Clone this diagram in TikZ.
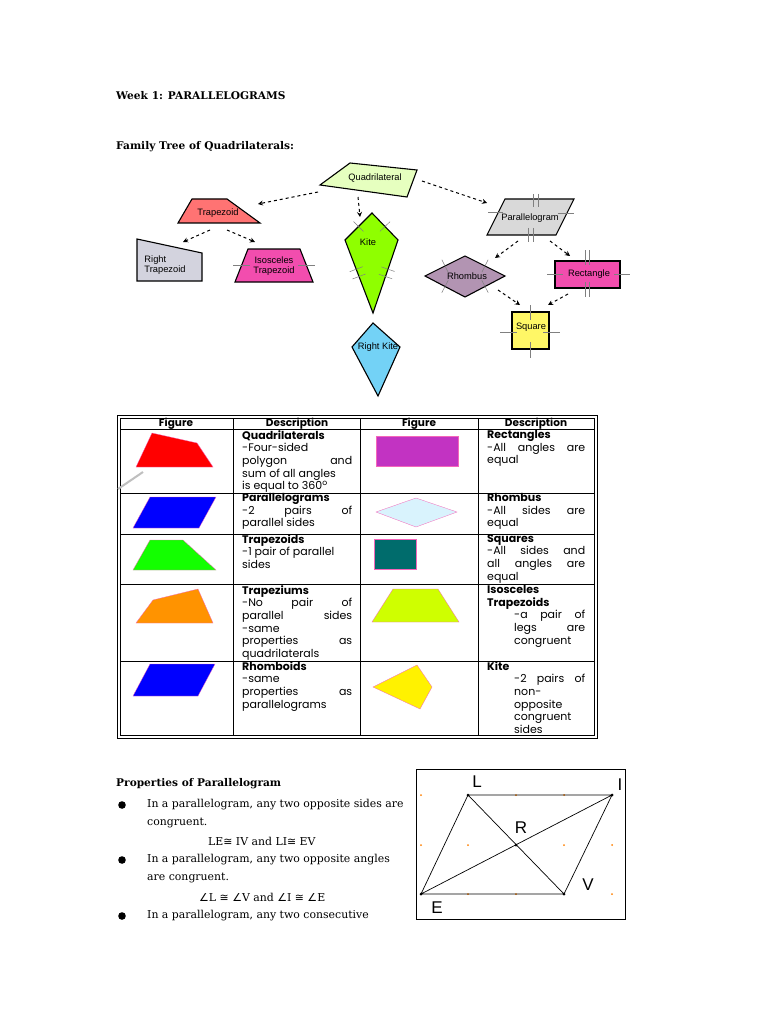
\documentclass[tikz,border=0pt]{standalone}
\usepackage{fontspec}
\setmainfont{DejaVu Serif}
\newfontfamily\lsans{Liberation Sans}
\newfontfamily\dsans{DejaVu Sans}
\newfontfamily\tfont{Poppins}
\usetikzlibrary{arrows.meta}
\newcommand{\sj}[2]{\makebox[#1][s]{#2}}
\newcommand{\cg}{{\dsans ≅}}
\begin{document}
\begin{tikzpicture}[x=1pt,y=-1pt,
  shp/.style={draw=black,line width=1.1pt,line join=miter},
  lab/.style={font=\lsans\fontsize{9.3}{10}\selectfont,align=center,inner sep=0pt},
  arr/.style={dashed,line width=1pt,-{Stealth[length=5pt,width=5pt]}},
  tk/.style={draw=gray,line width=0.5pt,inner sep=0pt,minimum width=0pt,minimum height=14pt,sloped,shape=rectangle},
  tsh/.style={draw=magenta!60,line width=0.3pt},
  hd/.style={font=\tfont\bfseries\fontsize{10.5}{12}\selectfont,inner sep=0pt},
  desc/.style={anchor=north west,inner sep=0pt,align=left,font=\tfont\fontsize{11}{12.7}\selectfont},
  body/.style={anchor=west,inner sep=0pt,font=\fontsize{10.9}{12}\selectfont},
  bodyb/.style={anchor=west,inner sep=0pt,font=\bfseries\fontsize{10.6}{12}\selectfont},
  pt/.style={font=\lsans\fontsize{17}{18}\selectfont,inner sep=0pt}]
\useasboundingbox (0,0) rectangle (768,1024);
\fill[white] (0,0) rectangle (768,1024);
% headings
\node[bodyb] (title) at (116,96) {Week 1: PARALLELOGRAMS};
\node[bodyb] (fam) at (116,147) {Family Tree of Quadrilaterals:};
% family tree shapes
\filldraw[shp,fill=green!20!lime!25] (320,185) -- (350,163) -- (417,170) -- (407,197) -- cycle;
\node[lab] (quad) at (375,178) {Quadrilateral};
\filldraw[shp,fill=red!40!pink] (178,223) -- (192,199) -- (227,199) -- (260,223) -- cycle;
\node[lab] (trap) at (218,213) {Trapezoid};
\filldraw[shp,fill=blue!15!gray!30] (137,239) -- (202,253) -- (202,281) -- (137,281) -- cycle;
\node[lab,align=left] (rtrap) at (165,265) {Right\\Trapezoid};
\filldraw[shp,fill=magenta!70] (235,282) -- (248,249) -- (300,249) -- (313,282) -- cycle;
\node[lab] (itrap) at (274,266) {Isosceles\\Trapezoid};
\draw[gray,line width=0.5pt] (233,265) -- (250,265) (298,265) -- (315,265);
\filldraw[shp,fill=lime!75!green] (345,240) -- (372,213) -- (398,240) -- (373,313) -- cycle;
\node[lab] (kite) at (368,242) {Kite};
\path (345,240) -- (372,213) node[tk,midway]{};
\path (372,213) -- (398,240) node[tk,midway]{};
\path (345,240) -- (373,313) node[tk,pos=0.4]{} node[tk,pos=0.5]{};
\path (398,240) -- (373,313) node[tk,pos=0.4]{} node[tk,pos=0.5]{};
\filldraw[shp,fill=cyan!55] (352,347) -- (373,323) -- (400,347) -- (378,396) -- cycle;
\node[lab] (rkite) at (378,347) {Right Kite};
\filldraw[shp,fill=gray!30] (487,235) -- (505,199) -- (574,199) -- (556,235) -- cycle;
\node[lab] (para) at (530,218) {Parallelogram};
\draw[gray,line width=0.5pt] (533,194) -- (533,207) (538,194) -- (538,207) (528,228) -- (528,242) (533,228) -- (533,242) (488,212) -- (503,212) (558,213) -- (574,213);
\filldraw[shp,fill=violet!40!gray!60] (425,276) -- (465,256) -- (505,276) -- (465,297) -- cycle;
\node[lab] (rhom) at (467,276) {Rhombus};
\path (425,276) -- (465,256) node[tk,midway]{};
\path (465,256) -- (505,276) node[tk,midway]{};
\path (505,276) -- (465,297) node[tk,midway]{};
\path (465,297) -- (425,276) node[tk,midway]{};
\filldraw[shp,fill=magenta!70] (555,261) rectangle (620,288);
\node[lab] (rect) at (589,274) {Rectangle};
\draw[gray,line width=0.5pt] (585,250) -- (585,265) (589,250) -- (589,265) (585,282) -- (585,297) (589,282) -- (589,297) (547,274) -- (563,274) (614,274) -- (630,274);
\filldraw[shp,fill=yellow!60] (512,312) rectangle (549,349);
\node[lab] (sq) at (531,327) {Square};
\draw[gray,line width=0.5pt] (530,305) -- (530,320) (530,342) -- (530,358) (500,332) -- (517,332) (543,332) -- (560,332);
% arrows
\draw[arr] (318,192) -- (258,204);
\draw[arr] (358,197) -- (360,217);
\draw[arr] (422,181) -- (487,203);
\draw[arr] (210,230) -- (183,242);
\draw[arr] (227,230) -- (255,242);
\draw[arr] (518,241) -- (495,258);
\draw[arr] (550,241) -- (570,256);
\draw[arr] (498,290) -- (520,305);
\draw[arr] (568,294) -- (548,305);
% table frame
\draw[line width=0.8pt] (117,415) rectangle (597,738);
\draw[line width=0.8pt] (120,418) rectangle (594,735);
\draw[line width=0.8pt] (233,418) -- (233,735) (360,418) -- (360,735) (478,418) -- (478,735);
\draw[line width=0.8pt] (120,429) -- (594,429);
\draw[line width=0.6pt] (120,493) -- (594,493) (120,534) -- (594,534) (120,584) -- (594,584) (120,661) -- (594,661);
\draw[gray!50,line width=2pt] (118,489) -- (143,472);
\node[hd] (h1) at (176,424) {Figure};
\node[hd] (h2) at (297,424) {Description};
\node[hd] (h3) at (419,424) {Figure};
\node[hd] (h4) at (536,424) {Description};
% table figures
\filldraw[tsh,fill=red] (136,467) -- (152,433) -- (197,443) -- (213,467) -- cycle;
\filldraw[tsh,fill=blue] (133,528) -- (150,497) -- (216,497) -- (199,528) -- cycle;
\filldraw[tsh,fill=green!90!lime] (133,570) -- (150,540) -- (183,540) -- (216,570) -- cycle;
\filldraw[tsh,fill=orange!85!yellow] (136,623) -- (153,600) -- (198,589) -- (213,623) -- cycle;
\filldraw[tsh,fill=blue] (133,696) -- (150,664) -- (215,664) -- (198,696) -- cycle;
\filldraw[tsh,fill=violet!60!magenta!80] (376,436) rectangle (458,466);
\filldraw[tsh,fill=cyan!15] (376,512) -- (416,498) -- (457,512) -- (416,527) -- cycle;
\filldraw[tsh,fill=teal!85!black] (374,539) rectangle (416,569);
\filldraw[tsh,fill=lime!75!yellow] (372,622) -- (393,589) -- (438,589) -- (459,622) -- cycle;
\filldraw[tsh,fill=yellow] (373,687) -- (417,665) -- (432,687) -- (420,709) -- cycle;
% table descriptions
\node[desc] (d1) at (242,430) {\textbf{Quadrilaterals}\\-Four-sided\\\sj{110pt}{polygon and}\\sum of all angles\\is equal to 360\textsuperscript{o}};
\node[desc] (d2) at (242,493) {\textbf{Parallelograms}\\\sj{110pt}{-2 pairs of}\\parallel sides};
\node[desc] (d3) at (242,534) {\textbf{Trapezoids}\\-1 pair of parallel\\sides};
\node[desc] (d4) at (242,585) {\textbf{Trapeziums}\\\sj{110pt}{-No pair of}\\\sj{110pt}{parallel sides}\\-same\\\sj{110pt}{properties as}\\quadrilaterals};
\node[desc] (d5) at (242,661) {\textbf{Rhomboids}\\-same\\\sj{110pt}{properties as}\\parallelograms};
\node[desc] (d6) at (487,430) {\textbf{Rectangles}\\\sj{98pt}{-All angles are}\\equal};
\node[desc] (d7) at (487,493) {\textbf{Rhombus}\\\sj{98pt}{-All sides are}\\equal};
\node[desc] (d8) at (487,534) {\textbf{Squares}\\\sj{98pt}{-All sides and}\\\sj{98pt}{all angles are}\\equal};
\node[desc] (d9) at (487,585) {\textbf{Isosceles}\\\textbf{Trapezoids}\\\hspace*{27pt}\sj{71pt}{-a pair of}\\\hspace*{27pt}\sj{71pt}{legs are}\\\hspace*{27pt}congruent};
\node[desc] (d10) at (487,661) {\textbf{Kite}\\\hspace*{27pt}\sj{71pt}{-2 pairs of}\\\hspace*{27pt}non-\\\hspace*{27pt}opposite\\\hspace*{27pt}congruent\\\hspace*{27pt}sides};
% properties
\node[bodyb] (prop) at (116,784) {Properties of Parallelogram};
\foreach \yy in {805,860,916} \fill (122,\yy) circle (3.8pt);
\node[body] (t1) at (147,805) {In a parallelogram, any two opposite sides are};
\node[body] (t2) at (147,823) {congruent.};
\node[body] (t3) at (208,841) {LE\cg\ IV and LI\cg\ EV};
\node[body] (t4) at (147,860) {In a parallelogram, any two opposite angles};
\node[body] (t5) at (147,878) {are congruent.};
\node[body] (t6) at (199,897) {{\dsans ∠}L \cg\ {\dsans ∠}V and {\dsans ∠}I \cg\ {\dsans ∠}E};
\node[body] (t7) at (147,916) {In a parallelogram, any two consecutive};
% parallelogram figure
\draw[line width=0.6pt] (416,769) rectangle (625,919);
\foreach \p in {(421,795),(516,795),(564,795),(421,845),(468,845),(564,845),(612,845),(468,894),(516,894),(612,894)} \fill[orange] \p circle (1pt);
\coordinate (L) at (468,795); \coordinate (I) at (612,795);
\coordinate (V) at (564,894); \coordinate (E) at (421,894);
\coordinate (R) at (516,845);
\draw[line width=0.7pt] (L) -- (I) -- (V) -- (E) -- cycle (L) -- (V) (E) -- (I);
\foreach \c in {L,I,V,E,R} \fill (\c) circle (1.5pt);
\node[pt] (nL) at (477,782) {L};
\node[pt] (nI) at (620,785) {I};
\node[pt] (nR) at (521,828) {R};
\node[pt] (nV) at (588,885) {V};
\node[pt] (nE) at (437,908) {E};
\end{tikzpicture}
\end{document}
